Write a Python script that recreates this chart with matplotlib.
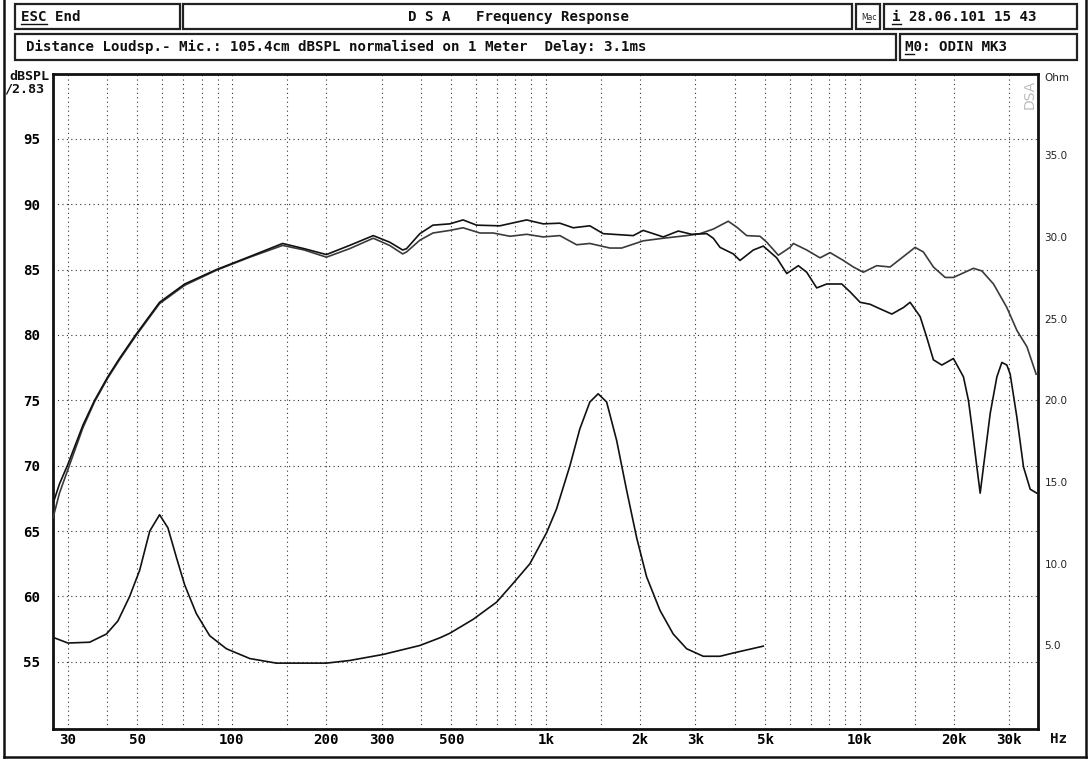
import matplotlib
matplotlib.use('Agg')
import matplotlib.pyplot as plt
from matplotlib.patches import Rectangle
from matplotlib.lines import Line2D
from matplotlib.ticker import NullLocator

W, H = 1089, 760

# ---------------- data ----------------
# SPL curve 1 (upper in mids, lower at high frequencies)
spl1_freq = [26.9, 28.2, 30.0, 33.5, 36.5, 40.2, 43.8, 49.3, 58.8, 70.7, 89.2, 114, 145, 170,
             200, 237, 282, 318, 350, 360, 397, 437, 495, 545, 602, 714, 869, 981, 1109,
             1223, 1382, 1524, 1900, 2045, 2368, 2644, 2917, 3257, 3419, 3592, 3960, 4159,
             4586, 4934, 5445, 5861, 6381, 6784, 7302, 7862, 8775, 9326, 10040, 10800, 11620,
             12670, 13800, 14490, 15600, 16380, 17190, 18290, 19910, 21430, 22230, 22800,
             23650, 24230, 24820, 26080, 27390, 28410, 29470, 30200, 31720, 33300, 34980, 36730]
spl1_db = [67.1, 68.6, 70.1, 73.1, 75.0, 76.8, 78.2, 80.0, 82.5, 83.9, 85.0, 86.0, 87.0, 86.6,
           86.15, 86.85, 87.6, 87.1, 86.5, 86.6, 87.75, 88.4, 88.5, 88.8, 88.4, 88.35, 88.8, 88.5, 88.55,
           88.2, 88.35, 87.75, 87.6, 88.0, 87.5, 87.95, 87.7, 87.75, 87.4, 86.7, 86.2, 85.7,
           86.5, 86.8, 85.9, 84.7, 85.3, 84.8, 83.6, 83.9, 83.9, 83.3, 82.5, 82.35, 82.0,
           81.6, 82.1, 82.5, 81.4, 79.8, 78.1, 77.7, 78.2, 76.8, 75.0, 73.0,
           69.9, 67.9, 69.9, 74.0, 76.8, 77.9, 77.7, 77.0, 73.7, 69.9, 68.2, 67.9]

# SPL curve 2 (lower in mids, upper at high frequencies)
spl2_freq = [26.9, 28.2, 30.0, 33.5, 36.5, 40.2, 43.8, 49.3, 58.8, 70.7, 89.2, 114, 145, 170,
             200, 237, 282, 318, 350, 360, 397, 437, 495, 545, 617, 680, 769, 869, 981, 1109,
             1254, 1382, 1601, 1745, 2045, 2368, 2812, 3100, 3419, 3815, 4060, 4369, 4816,
             5059, 5510, 6004, 6151, 6784, 7482, 8054, 8879, 9555, 10280, 11340, 12510, 13800,
             15030, 15970, 17190, 18740, 19910, 23070, 24530, 26720, 29470, 31720, 34150, 36540]
spl2_db = [66.0, 67.9, 69.7, 72.9, 74.9, 76.7, 78.1, 79.9, 82.4, 83.8, 84.95, 85.95, 86.85, 86.5,
           85.95, 86.6, 87.4, 86.85, 86.2, 86.35, 87.25, 87.8, 88.0, 88.2, 87.8, 87.8, 87.55, 87.7, 87.5, 87.6,
           86.9, 87.0, 86.65, 86.65, 87.2, 87.4, 87.6, 87.75, 88.1, 88.7, 88.25, 87.6, 87.55,
           87.1, 86.1, 86.7, 87.0, 86.5, 85.9, 86.3, 85.7, 85.2, 84.8, 85.3, 85.2, 86.0,
           86.7, 86.35, 85.2, 84.4, 84.4, 85.1, 84.9, 83.9, 82.1, 80.35, 79.1, 77.0]

# Impedance (Ohm, right axis)
imp_freq = [26.9, 30.0, 35.2, 39.8, 43.3, 47.2, 50.8, 54.7, 58.8, 62.5, 66.5, 70.7, 77.0, 84.9,
            96.0, 114, 138.5, 200, 237, 303, 397, 460, 495, 587, 697, 787, 890, 1006, 1082,
            1194, 1284, 1382, 1469, 1563, 1682, 1810, 1948, 2096, 2312, 2548, 2812, 3176,
            3592, 3960, 4934]
imp_ohm = [5.5, 5.15, 5.2, 5.7, 6.5, 8.0, 9.6, 12.0, 13.0, 12.2, 10.4, 8.7, 6.95, 5.6,
           4.8, 4.2, 3.92, 3.92, 4.08, 4.45, 5.0, 5.47, 5.75, 6.6, 7.65, 8.8, 10.0, 11.9, 13.35,
           16.0, 18.25, 19.9, 20.4, 19.9, 17.55, 14.5, 11.6, 9.2, 7.15, 5.7, 4.8, 4.34,
           4.34, 4.54, 4.96]

db_ticks = [55, 60, 65, 70, 75, 80, 85, 90, 95]
ohm_ticks = [5, 10, 15, 20, 25, 30, 35]
ohm_labels = ['5.0', '10.0', '15.0', '20.0', '25.0', '30.0', '35.0']
freq_ticks = [30, 50, 100, 200, 300, 500, 1000, 2000, 3000, 5000, 10000, 20000, 30000]
freq_labels = ['30', '50', '100', '200', '300', '500', '1k', '2k', '3k', '5k', '10k', '20k', '30k']
freq_grid = [30, 40, 50, 60, 70, 80, 90, 100, 150, 200, 300, 400, 500, 600, 700, 800, 900,
             1000, 1500, 2000, 3000, 4000, 5000, 6000, 7000, 8000, 9000, 10000, 15000, 20000, 30000]

MONO = 'DejaVu Sans Mono'
FS = 10.2

# ---------------- figure ----------------
fig = plt.figure(figsize=(W / 100, H / 100), dpi=100)
fig.patch.set_facecolor('white')


def fx(x):
    return x / W


def fy(y):
    return 1 - y / H


# outer border
for (x0, y0, x1, y1) in [(3.5, 0, 3.5, 756.5), (3.5, 756.5, 1085.5, 756.5), (1085.5, 0, 1085.5, 756.5)]:
    fig.add_artist(Line2D([fx(x0), fx(x1)], [fy(y0), fy(y1)], color='#111', lw=1.8))

# header boxes
boxes = [(15, 4, 180, 29), (183, 4, 852, 29), (856, 4, 880, 29), (884, 4, 1077, 29),
         (15, 34, 896, 60), (900, 34, 1077, 60)]
for (x0, y0, x1, y1) in boxes:
    fig.add_artist(Rectangle((fx(x0), fy(y1)), (x1 - x0) / W, (y1 - y0) / H,
                             transform=fig.transFigure, fill=False, lw=1.6, ec='#222'))


def htext(x, y, s, underline=None, fs=FS, family=MONO, weight='bold'):
    fig.text(fx(x), fy(y), s, fontsize=fs, family=family, weight=weight,
             ha='left', va='center', color='#111')
    if underline is not None:
        a, b = underline
        c = 0.602 * fs * 100 / 72
        fig.add_artist(Line2D([fx(x + a * c), fx(x + b * c)], [fy(y + 7), fy(y + 7)],
                              color='#111', lw=1.0))


htext(21, 17, 'ESC End', underline=(0, 3))
htext(408, 17, 'D S A   Frequency Response')
fig.text(fx(868.5), fy(17), 'Mac', fontsize=5.5, family='DejaVu Sans', ha='center', va='center', color='#222')
fig.add_artist(Line2D([fx(866), fx(870)], [fy(22), fy(22)], color='#222', lw=0.8))
htext(892, 17, 'i 28.06.101 15 43', underline=(0, 1))
htext(26, 47, 'Distance Loudsp.- Mic.: 105.4cm dBSPL normalised on 1 Meter  Delay: 3.1ms')
htext(905, 47, 'M0: ODIN MK3', underline=(0, 1))

# axis unit labels
fig.text(fx(9), fy(76), 'dBSPL', fontsize=9.6, family=MONO, weight='bold', ha='left', va='center', color='#111')
fig.text(fx(4), fy(89), '/2.83', fontsize=9.6, family=MONO, weight='bold', ha='left', va='center', color='#111')
fig.text(fx(1044), fy(78), 'Ohm', fontsize=7.5, family='DejaVu Sans', ha='left', va='center', color='#222')
fig.text(fx(1050), fy(739), 'Hz', fontsize=FS, family=MONO, weight='bold', ha='left', va='center', color='#111')

# ---------------- axes ----------------
L, R, T, B = 52.5, 1037.5, 73.5, 728.5
ax = fig.add_axes([fx(L), fy(B), (R - L) / W, (B - T) / H])
ax.set_xscale('log')
ax.set_xlim(26.8, 36900)
ax.set_ylim(49.9, 100)

for sp in ax.spines.values():
    sp.set_linewidth(2.0)
    sp.set_color('#111')

grid_kw = dict(color='#333', lw=0.8, ls=(0, (1, 3)), zorder=1)
for f in freq_grid:
    ax.axvline(f, **grid_kw)
for d in db_ticks:
    ax.axhline(d, **grid_kw)

ax.set_yticks(db_ticks)
ax.set_yticklabels([str(v) for v in db_ticks], family=MONO, weight='bold', fontsize=FS)
ax.set_xticks(freq_ticks)
ax.set_xticklabels(freq_labels, family=MONO, weight='bold', fontsize=FS)
ax.xaxis.set_minor_locator(NullLocator())
ax.tick_params(axis='y', length=0, pad=9)
ax.tick_params(axis='x', length=0, pad=3)

ax.plot(spl2_freq, spl2_db, color='#3a3a3a', lw=1.2, zorder=3)
ax.plot(spl1_freq, spl1_db, color='#111111', lw=1.2, zorder=4)

ax2 = ax.twinx()
ax2.set_ylim((49.9 - 50) / 1.25, 40)
ax2.set_yticks(ohm_ticks)
ax2.set_yticklabels(ohm_labels, family='DejaVu Sans', fontsize=7.5, color='#222')
ax2.tick_params(axis='y', length=0, pad=5)
for sp in ax2.spines.values():
    sp.set_visible(False)
ax2.plot(imp_freq, imp_ohm, color='#111111', lw=1.2, zorder=3)

ax.text(0.9915, 0.968, 'DSA', transform=ax.transAxes, rotation=90, fontsize=10,
        family='DejaVu Sans', color='#bdbdbd', ha='center', va='center')

fig.savefig('out.png', dpi=100, facecolor='white')
